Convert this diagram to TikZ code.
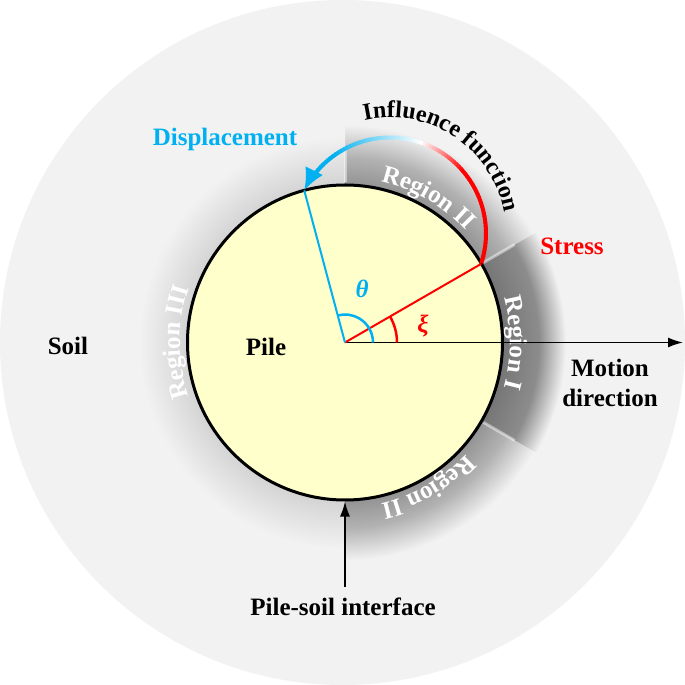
\documentclass[tikz,border=0pt]{standalone}
\usepackage{fontspec}
\setmainfont{Liberation Serif}
\usetikzlibrary{arrows.meta,decorations.text}

\definecolor{soilgray}{RGB}{242,242,242}
\definecolor{pileyellow}{RGB}{255,255,204}
\definecolor{dispblue}{RGB}{0,176,240}
\definecolor{stressred}{RGB}{255,0,0}
\definecolor{regIa}{RGB}{118,118,118}
\definecolor{regIb}{RGB}{140,140,140}
\definecolor{regIIa}{RGB}{148,148,148}
\definecolor{regIIb}{RGB}{178,178,178}
\definecolor{regIIIa}{RGB}{212,212,212}

\newcommand\regfont{\fontsize{25}{25}\selectfont\bfseries\color{white}}
\newcommand\inffont{\fontsize{24}{24}\selectfont\bfseries}

% radial fades of the three regions (pile edge at 16.5bp, circle edge at 25bp)
\pgfdeclareradialshading{regionI}{\pgfpoint{0bp}{0bp}}{%
  color(0bp)=(regIa); color(16.5bp)=(regIa); color(20.2bp)=(regIb);
  color(23bp)=(soilgray); color(50bp)=(soilgray)}
\pgfdeclareradialshading{regionII}{\pgfpoint{0bp}{0bp}}{%
  color(0bp)=(regIIa); color(16.5bp)=(regIIa); color(19.3bp)=(regIIb);
  color(22.7bp)=(soilgray); color(50bp)=(soilgray)}
\pgfdeclareradialshading{regionIII}{\pgfpoint{0bp}{0bp}}{%
  color(0bp)=(regIIIa); color(16.5bp)=(regIIIa);
  color(21.5bp)=(soilgray); color(50bp)=(soilgray)}

\begin{document}
\begin{tikzpicture}[x=1pt, y=1pt,
  lbl/.style={font=\fontsize{25}{30}\selectfont\bfseries, align=center},
  rline/.style={line width=2},
  angmark/.style={line width=2.5},
  edgelight/.style={white, opacity=0.45, line width=3},
  regtext/.style={decorate, decoration={text along path, text align=center,
    text={|\regfont|#1}}},
  thinarrow/.style={line width=1.5, -{Latex[length=15,width=10]}},
]

% Soil background
\useasboundingbox (-345,-342.5) rectangle (340,342.5);
\fill[white] (-345,-342.5) rectangle (340,342.5);
\fill[soilgray] (-2.5,0) circle (342.5);

% Region shading
\begin{scope}
  \clip (0,0) -- (-30:260) arc[start angle=-30, end angle=30, radius=260] -- cycle;
  \shade[shading=regionI] (0,0) circle (240);
\end{scope}
\begin{scope}
  \clip (0,0) -- (30:260) arc[start angle=30, end angle=90, radius=260] -- cycle
        (0,0) -- (-90:260) arc[start angle=-90, end angle=-30, radius=260] -- cycle;
  \shade[shading=regionII] (0,0) circle (240);
\end{scope}
\begin{scope}
  \clip (0,0) -- (90:260) arc[start angle=90, end angle=270, radius=260] -- cycle;
  \shade[shading=regionIII] (0,0) circle (240);
\end{scope}
\foreach \t in {90,30,-30}
  \draw[edgelight] (\t:160) -- (\t:196);

% Region labels
\path[regtext={Region I}] (30:165) arc[start angle=30, end angle=-30, radius=165];
\path[regtext={Region II}] (90:165) arc[start angle=90, end angle=30, radius=165];
\path[regtext={Region II}] (-30:165) arc[start angle=-30, end angle=-90, radius=165];
\path[regtext={Region III}] (210:165) arc[start angle=210, end angle=150, radius=165];

% Pile
\node[circle, draw, line width=3, fill=pileyellow, minimum size=315] (pile) at (0,0) {};
\coordinate (O) at (0,0);
\coordinate (S) at (30:157.5);
\coordinate (D) at (105:157.5);
\coordinate (tipR) at (338,0);
\coordinate (infc) at (45,109);

\draw[thinarrow] (O) -- (tipR);
\draw[stressred, rline] (O) -- (S);
\draw[dispblue, rline] (O) -- (D);
\draw[dispblue, angmark] ([shift={(0:28)}]O) arc[start angle=0, end angle=105, radius=28];
\draw[stressred, angmark] ([shift={(0:52)}]O) arc[start angle=0, end angle=30, radius=52];

% Influence function arc
\foreach \a in {-18,-16,...,138} {
  \pgfmathsetmacro\pr{max(0,min(100,(70-\a)/30*100))}
  \pgfmathsetmacro\pb{max(0,min(100,(\a-70)/55*100))}
  \ifdim\a pt<70pt \colorlet{arcc}{stressred!\pr!white}\else\colorlet{arcc}{dispblue!\pb!white}\fi
  \draw[arcc, line width=4] ([shift={(\a:96)}]infc) arc[start angle=\a, end angle=\a+2.6, radius=96];
}
\draw[dispblue, line width=4, -{Latex[length=22,width=20]}]
  ([shift={(140:96)}]infc) arc[start angle=140, end angle=153.3, radius=96];
\path[decorate, decoration={text along path, text align=center,
  text={|\inffont|Influence function}}]
  ([shift={(120:116)}]infc) arc[start angle=120, end angle=-7, radius=116];

% Labels
\node[lbl] (soil) at (-277,-3) {Soil};
\node[lbl] (pilelbl) at (-79,-4) {Pile};
\node[lbl] (motion) at (265,-40) {Motion\\direction};
\node[lbl, text=stressred] (stress) at (227,96) {Stress};
\node[lbl, text=dispblue] (disp) at (-120,203) {Displacement};
\node[lbl, text=dispblue, font=\fontsize{25}{30}\selectfont\bfseries\itshape] (theta) at (17,54) {θ};
\node[lbl, text=stressred, font=\fontsize{25}{30}\selectfont\bfseries\itshape] (xi) at (78,16) {ξ};
\node[lbl] (psi) at (-2,-264) {Pile-soil interface};
\draw[thinarrow, shorten <=7] (psi.north -| pile.south) -- (pile.south);

\end{tikzpicture}
\end{document}
